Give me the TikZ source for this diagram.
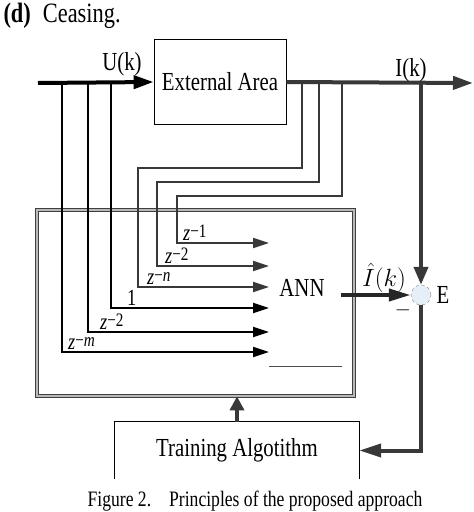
\documentclass[tikz,border=0pt]{standalone}
\usepackage{fontspec}
\setmainfont{Liberation Serif}[FakeStretch=0.8]
\usetikzlibrary{arrows.meta}
\usetikzlibrary{positioning}
\definecolor{wiregray}{HTML}{383838}
\definecolor{sumblue}{HTML}{E6EEF8}
\tikzset{
  bigtext/.style={font=\fontsize{26}{30}\selectfont},
  smalltext/.style={font=\fontsize{23}{26}\selectfont, inner sep=1pt},
  delaytext/.style={font=\fontsize{23}{26}\selectfont, inner sep=1pt},
  mainwire/.style={line width=4pt},
  tapwire/.style={line width=2.2pt, -{Triangle[length=16pt,width=10pt]}},
  framebox/.style={draw=black!75, line width=0.7pt, double=gray!55, double distance=2pt},
}
\newcommand{\dly}[1]{\textit{z}\raisebox{3pt}{\fontsize{19}{22}\selectfont #1}}

\begin{document}
\begin{tikzpicture}[x=1pt,y=-1pt]
    \useasboundingbox (0,0) rectangle (474,512);
    % title and caption
    \node [font=\fontsize{28}{32}\selectfont, anchor=west] (title) at (0,16) {\textbf{(d)}\hspace{12pt}Ceasing.};
    \node [font=\fontsize{22}{26}\selectfont] (caption) at (255,501) {Figure 2.\hspace{18pt}Principles of the proposed approach};
    % blocks
    \node [draw, line width=0.8pt, minimum width=132pt, minimum height=85pt, bigtext] (ext) at (220,82) {External Area};
    \node [framebox, minimum width=317pt, minimum height=186pt] (annbox) at (195.5,303) {};
    \node [bigtext] (ann) at (302,288) {ANN};
    \node [minimum width=244pt, minimum height=57pt, bigtext] (train) at (237,450.5) {Training Algotithm};
    \draw [line width=0.8pt] (train.south west) |- (train.north east) -- (train.south east);
    \node [circle, draw=gray, dashed, fill=sumblue, minimum size=20pt, inner sep=0pt] (err) at (421,295) {};
    \node [bigtext, right=2pt of err] (elabel) {E};
    % points on the wires
    \coordinate (uin) at (38,83);
    \coordinate (iout) at (473,83);
    \coordinate (tapA) at (62,83);
    \coordinate (tapB) at (88,83);
    \coordinate (tapC) at (111,83);
    \coordinate (tapD) at (302,83);
    \coordinate (tapE) at (319,83);
    \coordinate (tapF) at (342,83);
    \coordinate (tapG) at (421,83);
    \coordinate (bendD) at (138,168);
    \coordinate (bendE) at (157,182);
    \coordinate (bendF) at (177,196);
    \coordinate (c1) at (177,243);
    \coordinate (c2) at (157,266);
    \coordinate (c3) at (138,287);
    \coordinate (c4) at (111,308);
    \coordinate (c5) at (88,332);
    \coordinate (c6) at (62,352);
    \coordinate (in1) at (269,243);
    \coordinate (in2) at (269,266);
    \coordinate (in3) at (269,287);
    \coordinate (in4) at (269,308);
    \coordinate (in5) at (269,332);
    \coordinate (in6) at (269,352);
    \coordinate (annout) at (341,295);
    \coordinate (ulA) at (269,366);
    \coordinate (ulB) at (342,366);
    % main wires
    \draw [mainwire, -{Triangle[length=20pt,width=13pt]}] (uin) -- (ext.west);
    \draw [mainwire, wiregray, -{Triangle[length=20pt,width=13pt]}] (ext.east) -- (iout);
    \node [bigtext] (ulabel) at (122,64) {U(k)};
    \node [bigtext] (ilabel) at (411,70) {I(k)};
    % delayed inputs of the ANN
    \draw [tapwire, wiregray] (tapF) |- (bendF) -- (c1) -- (in1);
    \draw [tapwire, wiregray] (tapE) |- (bendE) -- (c2) -- (in2);
    \draw [tapwire, wiregray] (tapD) |- (bendD) -- (c3) -- (in3);
    \draw [tapwire] (tapC) |- (in4);
    \draw [tapwire] (tapB) |- (in5);
    \draw [tapwire] (tapA) |- (in6);
    \node [delaytext, above right=1pt and 5pt of c1] (lz1) {\dly{−1}};
    \node [delaytext, above right=1pt and 7pt of c2] (lz2) {\dly{−2}};
    \node [delaytext, above right=1pt and 8pt of c3] (lzn) {\dly{−\textit{n}}};
    \node [delaytext, above right=1pt and 15pt of c4] (lone) {1};
    \node [delaytext, above right=1pt and 11pt of c5] (lu2) {\dly{−2}};
    \node [delaytext, above right=1pt and 5pt of c6] (lum) {\dly{−\textit{m}}};
    \draw [line width=0.8pt, gray!60!black] (ulA) -- (ulB);
    % error and training
    \draw [mainwire, black!85, -{Triangle[length=22pt,width=12pt]}] (annout) -- (err.west);
    \node [smalltext] (ihat) at (384,278) {$\hat{I}(k)$};
    \node [font=\fontsize{22}{26}\selectfont, inner sep=0pt] (minus) at (403,310) {$-$};
    \draw [mainwire, wiregray, -{Triangle[length=18pt,width=14pt]}] (tapG) -- (err.north);
    \draw [mainwire, wiregray, -{Triangle[length=22pt,width=13pt]}] (err.south) |- (train.east);
    \draw [mainwire, wiregray, -{Triangle[length=14pt,width=14pt]}] (train.north) -- (train.north |- annbox.south);
\end{tikzpicture}
\end{document}
